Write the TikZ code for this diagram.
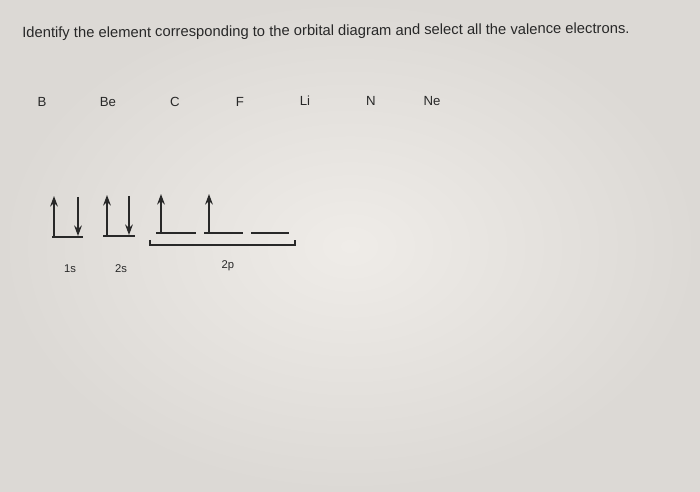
\documentclass[tikz,border=0pt]{standalone}
\usepackage{fontspec}
\setmainfont{Liberation Sans}
\usetikzlibrary{arrows.meta}
\definecolor{nensang}{RGB}{239,236,232}
\definecolor{nentoi}{RGB}{220,217,213}
\definecolor{chu}{RGB}{40,40,40}

\begin{document}
\begin{tikzpicture}[x=0.025cm,y=-0.025cm,
    orbline/.style={line width=1.1pt,draw=chu},
    spin/.style={-{Stealth[length=7.5pt,width=5.5pt]},line width=1pt,draw=chu},
    ngoac/.style={line width=0.8pt,draw=chu},
    nguyento/.style={anchor=base,text=chu,font=\fontsize{9.4}{11}\selectfont},
    phanlop/.style={anchor=base,text=chu,font=\fontsize{8}{9}\selectfont}]

    % Nền
    \shade[inner color=nensang,outer color=nentoi] (0,0) rectangle (700,492);
    \useasboundingbox (0,0) rectangle (700,492);

    % Câu hỏi
    \node[anchor=base west,rotate=0.45,inner sep=0pt,text=chu,
          font=\fontsize{10.5}{12}\selectfont] (cauhoi) at (22,38)
          {Identify the element corresponding to the orbital diagram and select all the valence electrons.};

    % Các nguyên tố
    \node[nguyento] (B)  at (42,107)  {B};
    \node[nguyento] (Be) at (108,107) {Be};
    \node[nguyento] (C)  at (175,107) {C};
    \node[nguyento] (F)  at (240,107) {F};
    \node[nguyento] (Li) at (305,106) {Li};
    \node[nguyento] (N)  at (371,106) {N};
    \node[nguyento] (Ne) at (432,106) {Ne};

    % Các orbital
    \coordinate (s1a) at (52,237);  \coordinate (s1b) at (83,237);  % 1s
    \coordinate (s2a) at (103,236); \coordinate (s2b) at (135,236); % 2s
    \coordinate (pxa) at (156,233); \coordinate (pxb) at (196,233); % 2p
    \coordinate (pya) at (204,233); \coordinate (pyb) at (243,233);
    \coordinate (pza) at (251,233); \coordinate (pzb) at (289,233);
    \draw[orbline] (s1a) -- (s1b);
    \draw[orbline] (s2a) -- (s2b);
    \draw[orbline] (pxa) -- (pxb);
    \draw[orbline] (pya) -- (pyb);
    \draw[orbline] (pza) -- (pzb);

    % Các electron
    \coordinate (e1) at (54,236);  \coordinate (e1t) at (54,196);
    \coordinate (e2) at (78,197);  \coordinate (e2t) at (78,236);
    \coordinate (e3) at (107,235); \coordinate (e3t) at (107,195);
    \coordinate (e4) at (129,196); \coordinate (e4t) at (129,235);
    \coordinate (e5) at (161,232); \coordinate (e5t) at (161,194);
    \coordinate (e6) at (209,232); \coordinate (e6t) at (209,194);
    \draw[spin] (e1) -- (e1t);
    \draw[spin] (e2) -- (e2t);
    \draw[spin] (e3) -- (e3t);
    \draw[spin] (e4) -- (e4t);
    \draw[spin] (e5) -- (e5t);
    \draw[spin] (e6) -- (e6t);

    % Ngoặc 2p
    \coordinate (nga) at (150,240); \coordinate (ngb) at (295,240);
    \draw[ngoac] (nga) -- ++(0,5) -| (ngb);

    % Nhãn
    \node[phanlop] (l1s) at (70,273)  {1s};
    \node[phanlop] (l2s) at (121,273) {2s};
    \node[phanlop] (l2p) at (228,269) {2p};

\end{tikzpicture}
\end{document}
